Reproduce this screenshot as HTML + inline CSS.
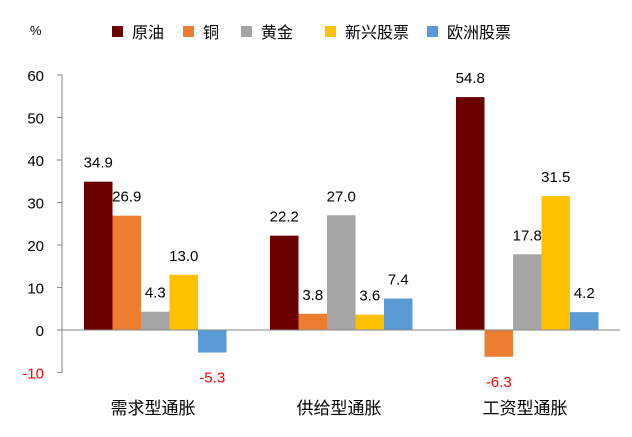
<!DOCTYPE html>
<html><head><meta charset="utf-8"><style>
body{margin:0;background:#fff;}
svg text{font-family:"Liberation Sans","Noto Sans CJK SC",sans-serif;}
</style></head><body>
<svg id="chart" width="632" height="432"></svg>
<script>
const categories=["需求型通胀","供给型通胀","工资型通胀"];
const seriesNames=["原油","铜","黄金","新兴股票","欧洲股票"];
const oil=[34.9,22.2,54.8];
const copper=[26.9,3.8,-6.3];
const gold=[4.3,27.0,17.8];
const emStocks=[13.0,3.6,31.5];
const euStocks=[-5.3,7.4,4.2];
const yTicks=[-10,0,10,20,30,40,50,60];
const colors=["#6B0000","#ED7D31","#A5A5A5","#FFC000","#5B9BD5"];
const series=[oil,copper,gold,emStocks,euStocks];
const NS="http://www.w3.org/2000/svg";
const svg=document.getElementById('chart');
const x0=62,x1=620,groupW=(x1-x0)/3,barW=28.5,barOff=22;
function y(v){return 330-v*4.25;}
function xBar(g,s){return x0+g*groupW+barOff+s*barW;}
function el(t,a,txt){const e=document.createElementNS(NS,t);for(const k in a)e.setAttribute(k,a[k]);if(txt!==undefined)e.textContent=txt;svg.appendChild(e);return e;}
let e=el('line',{x1:x0,x2:x0,y1:y(60),y2:y(-10),stroke:'#868686','stroke-width':1});

yTicks.forEach(t=>{
 const tk=el('line',{x1:x0-5,x2:x0,y1:y(t),y2:y(t),stroke:'#868686'});
 
 const l=el('text',{x:44,y:y(t)+6,'text-anchor':'end','font-size':15,fill:t<0?'#FF0000':'#000'},String(t));
 
});
const u=el('text',{x:30,y:35,'font-size':13},'%');

series.forEach((arr,s)=>{arr.forEach((v,g)=>{
 const bx=xBar(g,s);
 const r=el('rect',{x:bx,y:Math.min(y(v),y(0)),width:barW,height:Math.abs(y(v)-y(0)),fill:colors[s]});
 
 
 const ly=v>=0?y(v)-14:y(v)+30;
 const t=el('text',{x:bx+barW/2,y:ly,'text-anchor':'middle','font-size':15,fill:v<0?'#FF0000':'#000'},v.toFixed(1));
 
});});
e=el('line',{x1:x0,x2:x1,y1:y(0),y2:y(0),stroke:'#868686'});

categories.forEach((c,g)=>{
 const t=el('text',{x:x0+g*groupW+groupW/2-2,y:414,'text-anchor':'middle','font-size':17},c);
 
});
const legX=[112,183,241,325,427];
seriesNames.forEach((n,s)=>{
 const r=el('rect',{x:legX[s],y:26,width:11,height:11,fill:colors[s]});
 
 const t=el('text',{x:legX[s]+20,y:38,'font-size':16},n);
 
});
</script>
</body></html>
